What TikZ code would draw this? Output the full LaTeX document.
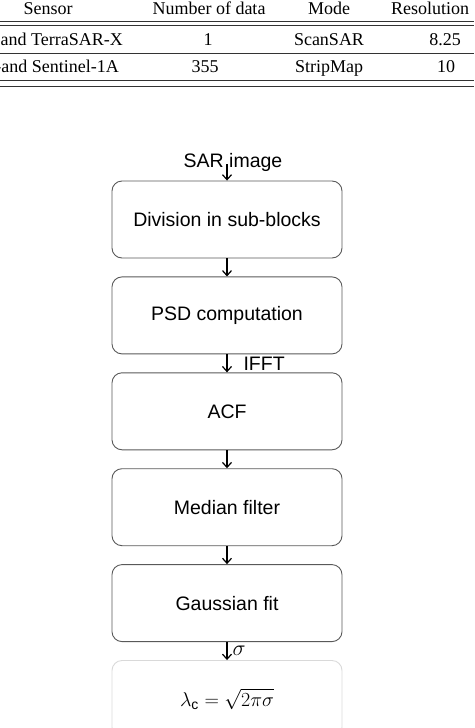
\RequirePackage{fix-cm}
\documentclass[tikz,border=0pt]{standalone}
\usepackage{fontspec}
\setmainfont{Liberation Sans}
\newfontfamily\tabfont{Liberation Serif}
\usetikzlibrary{arrows.meta,positioning}

\begin{document}
\begin{tikzpicture}[x=1pt,y=-1pt,
 stage/.style={draw=black!65,line width=0.9pt,rounded corners=10pt,minimum width=230pt,minimum height=77pt,inner sep=0pt,font=\fontsize{19.5}{22}\selectfont},
 faint/.style={stage,draw=black!15},
 lbl/.style={inner sep=0pt,font=\fontsize{19.5}{22}\selectfont},
 cell/.style={anchor=base,inner sep=0pt,font=\tabfont\fontsize{18}{21}\selectfont},
 rule/.style={line width=0.9pt,black!80},
 arr/.style={-{Straight Barb[length=5pt,width=9pt,line width=1.2pt]},line width=1.1pt}]
\useasboundingbox (0,0) rectangle (474,728);
\clip (0,0) rectangle (474,728);
% table fragment above the figure
\node[cell] (hsen) at (48,14) {Sensor};
\node[cell] (hnum) at (209,14) {Number of data};
\node[cell] (hmod) at (329,14) {Mode};
\node[cell] (hres) at (430,14) {Resolution};
\node[cell,anchor=base east] (sen1) at (123,45) {and TerraSAR-X};
\node[cell] (num1) at (208,45) {1};
\node[cell] (mod1) at (329,45) {ScanSAR};
\node[cell] (res1) at (445,45) {8.25};
\node[cell,anchor=base east] (sen2) at (119,72) {-and Sentinel-1A};
\node[cell] (num2) at (205,72) {355};
\node[cell] (mod2) at (329,72) {StripMap};
\node[cell] (res2) at (446,72) {10};
\draw[rule] (0,21) -- (474,21);
\draw[rule] (0,25) -- (474,25);
\draw[rule] (0,53) -- (474,53);
\draw[rule] (0,80) -- (474,80);
\draw[rule] (0,86) -- (474,86);
% flow chart
\node[lbl,anchor=base] (sar) at (233,167) {SAR image};
\coordinate (sarin) at (227,164);
\node[stage] (div) at (227,219.5) {Division in sub-blocks};
\node[stage,below=18pt of div] (psd) {PSD computation};
\node[stage,below=18pt of psd] (acf) {ACF};
\node[stage,below=18pt of acf] (med) {Median filter};
\node[stage,below=18pt of med] (gau) {Gaussian fit};
\node[faint,below=18pt of gau,font=\fontsize{20}{22}\selectfont] (lam) {$\lambda_{\mathrm{c}} = \sqrt{2\pi\sigma}$};
\draw[arr] (sarin) -- (div);
\draw[arr] (div) -- (psd);
\draw[arr] (psd) -- node[lbl,right=16pt] (ifft) {IFFT} (acf);
\draw[arr] (acf) -- (med);
\draw[arr] (med) -- (gau);
\draw[arr] (gau) -- node[lbl,right=5pt,font=\fontsize{22}{24}\selectfont] (sig) {$\sigma$} (lam);
\end{tikzpicture}
\end{document}
